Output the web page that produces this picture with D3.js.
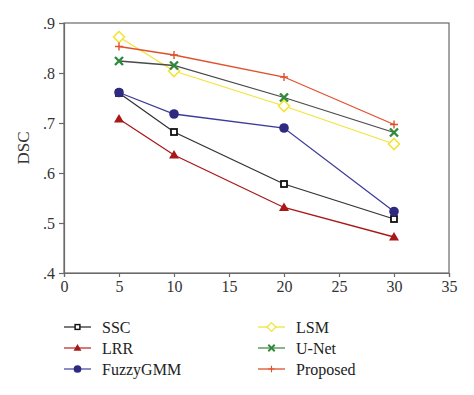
<!DOCTYPE html>
<html>
<head>
<meta charset="utf-8">
<script src="https://cdn.jsdelivr.net/npm/d3@7"></script>
<style>
  body { margin: 0; background: #fff; }
  svg { font-family: "Liberation Serif", "DejaVu Serif", serif; }
</style>
</head>
<body>
<svg id="chart" width="474" height="395"></svg>
<script>
const xValues = [5, 10, 20, 30]
const sscValues = [0.760, 0.682, 0.578, 0.508]
const lrrValues = [0.708, 0.636, 0.531, 0.472]
const fuzzyValues = [0.761, 0.718, 0.690, 0.523]
const lsmValues = [0.872, 0.804, 0.734, 0.658]
const unetValues = [0.824, 0.815, 0.751, 0.681]
const proposedValues = [0.853, 0.836, 0.792, 0.697]
const xTicks = [0, 5, 10, 15, 20, 25, 30, 35]
const yTicks = [0.4, 0.5, 0.6, 0.7, 0.8, 0.9]

const series = [
  { name: "SSC", values: sscValues, color: "#333333", legend: "#333333", marker: "square" },
  { name: "LRR", values: lrrValues, color: "#a81818", legend: "#c03030", marker: "triangle" },
  { name: "FuzzyGMM", values: fuzzyValues, color: "#3c3c98", legend: "#5050a8", marker: "circle" },
  { name: "LSM", values: lsmValues, color: "#f2e43a", legend: "#f2e43a", marker: "diamond" },
  { name: "U-Net", values: unetValues, color: "#4a4a4a", legend: "#4a8a4a", marker: "cross" },
  { name: "Proposed", values: proposedValues, color: "#e0502c", legend: "#e0502c", marker: "plus" }
]

const margin = { left: 64, top: 23, right: 25, bottom: 122 }
const width = 474 - margin.left - margin.right
const height = 395 - margin.top - margin.bottom

const svg = d3.select("#chart")
const g = svg.append("g")
  .attr("transform", "translate(" + margin.left + "," + margin.top + ")")

const xScale = d3.scaleLinear().domain([0, 35]).range([0, width])
const yScale = d3.scaleLinear().domain([0.4, 0.9]).range([height, 0])

// frame
g.append("rect")
  .attr("width", width).attr("height", height)
  .attr("fill", "none").attr("stroke", "#6a6a6a").attr("stroke-width", 1.2)

const xAxis = g.append("g")
  .attr("transform", "translate(0," + height + ")")
  .call(d3.axisBottom(xScale).tickValues(xTicks).tickSize(4).tickPadding(4).tickFormat(d3.format("d")))
const yAxis = g.append("g")
  .call(d3.axisLeft(yScale).tickValues(yTicks).tickSize(5).tickPadding(4)
    .tickFormat(d => d3.format(".1f")(d).replace(/^0/, "")))

;[xAxis, yAxis].forEach(a => {
  a.select(".domain").attr("stroke", "#6a6a6a").attr("stroke-width", 1.2)
  a.selectAll(".tick line").attr("stroke", "#6a6a6a").attr("stroke-width", 1.2)
  a.selectAll("text").attr("font-size", 16).attr("fill", "#333")
    .attr("font-family", "'Liberation Serif', serif")
})

svg.append("text")
  .attr("transform", "translate(29," + (margin.top + height / 2) + ") rotate(-90)")
  .attr("text-anchor", "middle")
  .attr("font-size", 17).attr("fill", "#333")
  .text("DSC")

function drawMarker(sel, type, color) {
  if (type === "square") {
    sel.append("rect").attr("x", -3).attr("y", -3).attr("width", 6).attr("height", 6)
      .attr("fill", "#fff").attr("stroke", "#111").attr("stroke-width", 1.8)
  } else if (type === "triangle") {
    sel.append("path").attr("d", "M0,-5L5,3.5L-5,3.5Z").attr("fill", color)
  } else if (type === "circle") {
    sel.append("circle").attr("r", 4.8).attr("fill", "#2e2a80")
  } else if (type === "diamond") {
    sel.append("path").attr("d", "M0,-5.5L5.5,0L0,5.5L-5.5,0Z")
      .attr("fill", "#fff").attr("stroke", color).attr("stroke-width", 1.6)
  } else if (type === "cross") {
    sel.append("path").attr("d", "M-4,-4L4,4M-4,4L4,-4")
      .attr("stroke", "#2e8a3a").attr("stroke-width", 2.4)
  } else if (type === "plus") {
    sel.append("path").attr("d", "M-4,0L4,0M0,-4L0,4")
      .attr("stroke", color).attr("stroke-width", 1.4)
  }
}

const line = d3.line()
  .x((d, i) => xScale(xValues[i]))
  .y(d => yScale(d))

series.forEach(s => {
  g.append("path")
    .attr("d", line(s.values))
    .attr("fill", "none")
    .attr("stroke", s.color)
    .attr("stroke-width", 1.3)
  s.values.forEach((v, i) => {
    const m = g.append("g").attr("transform", "translate(" + xScale(xValues[i]) + "," + yScale(v) + ")")
    drawMarker(m, s.marker, s.color)
  })
})

// legend
const legend = svg.append("g")
series.forEach((s, i) => {
  const col = Math.floor(i / 3), row = i % 3
  const lg = legend.append("g")
    .attr("transform", "translate(" + (64 + col * 194) + "," + (327 + row * 21) + ")")
  lg.append("line").attr("x1", 0).attr("x2", 27)
    .attr("stroke", s.legend).attr("stroke-width", 1.3)
  const m = lg.append("g").attr("transform", "translate(13.5,0) scale(0.8)")
  drawMarker(m, s.marker, s.color)
  lg.append("text").attr("x", 38).attr("y", 5.5)
    .attr("font-size", 16).attr("fill", "#222")
    .text(s.name)
})
</script>
</body>
</html>
